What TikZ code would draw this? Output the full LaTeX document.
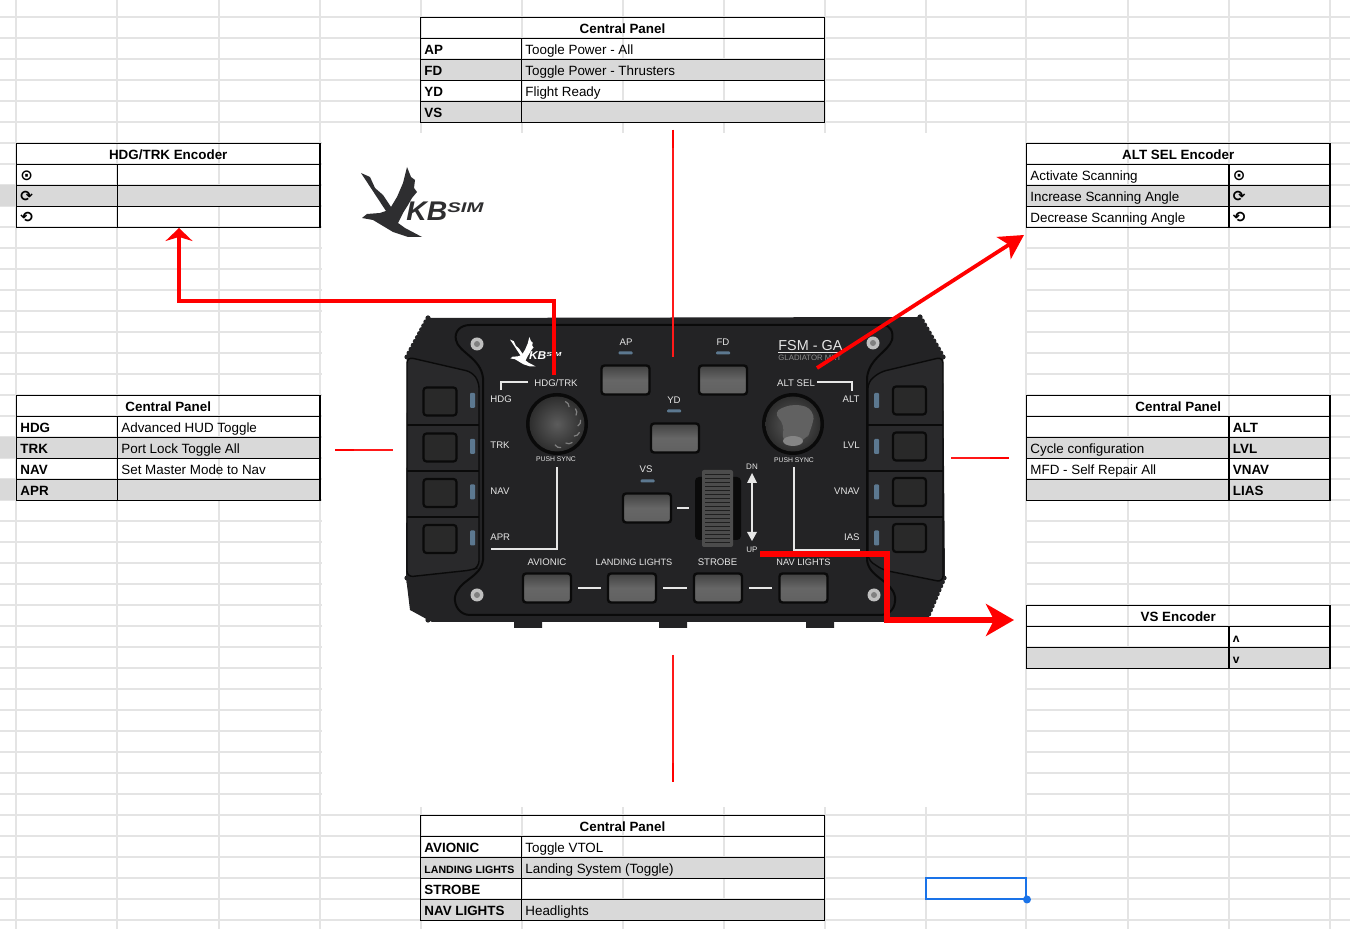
\documentclass[tikz,border=0pt]{standalone}
\usepackage{fontspec}
\setmainfont{Liberation Sans}
\newfontfamily\iconfont{DejaVu Sans}
\usetikzlibrary{arrows.meta, calc, positioning}

\definecolor{gridCol}{HTML}{E4E4E4}
\definecolor{stripeCol}{HTML}{D9D9D9}
\definecolor{bodyCol}{HTML}{232325}
\definecolor{podCol}{HTML}{29292B}
\definecolor{edgeCol}{HTML}{0A0A0A}
\definecolor{ledCol}{HTML}{5C7890}
\definecolor{labelCol}{HTML}{E6E6E6}
\definecolor{logoCol}{HTML}{2E2E30}
\definecolor{cellCol}{HTML}{1A73E8}

\tikzset{
    celltext/.style={anchor=base west, inner sep=0pt, font=\fontsize{6.7}{8}\selectfont},
    celltitle/.style={anchor=base, inner sep=0pt, font=\fontsize{6.7}{8}\selectfont\bfseries},
    cellrule/.style={draw=black, line width=0.6pt},
    keybtn/.style={draw=edgeCol, line width=1.2pt, rounded corners=1.5pt, minimum width=24pt, minimum height=14.5pt, inner sep=0pt, top color=black!74, bottom color=black!62, middle color=black!60},
    sidebtn/.style={draw=edgeCol, line width=1.1pt, rounded corners=1.5pt, minimum width=16.5pt, minimum height=14pt, inner sep=0pt, fill=black!84},
    panellabel/.style={inner sep=0pt, text=labelCol, font=\fontsize{4.8}{5}\selectfont},
    pushlabel/.style={inner sep=0pt, text=labelCol, font=\fontsize{3.4}{4}\selectfont},
    panelline/.style={draw=labelCol, line width=0.6pt},
    led/.style={fill=ledCol, rounded corners=0.5pt},
    redarrow/.style={draw=red, line width=1.6pt},
    redthin/.style={draw=red!90, line width=0.6pt},
    redthick/.style={draw=red, line width=1.1pt},
    pics/kblogo/.style={code={
        \fill[#1] (0,6) -- (9,10) -- (14,21) -- (22,28) -- (30,40) -- (36,30) -- (42,16) -- (46,0)
            -- (50,10) -- (54,13) -- (53,21) -- (56,25) -- (51,31) -- (47,38) -- (42,46) -- (37,56)
            -- (44,61) -- (61,70) -- (47,70) -- (32,65) -- (12,53) -- (1,51) -- (6,47) -- (19,46) -- (25,44) -- cycle;
        \node[anchor=base west, inner sep=0pt, transform shape, text=#1, font=\fontsize{13.5}{14}\selectfont\bfseries\itshape] at (45,54) {\scalebox{1.05}[1]{KB}};
        \node[anchor=base west, inner sep=0pt, transform shape, text=#1, font=\fontsize{7}{8}\selectfont\bfseries\itshape] at (86,46) {\scalebox{1.45}[1]{SIM}};
    }}
}

% table: name, left, split, right, top, title, rows
\newcommand{\sheettable}[7]{
    \begin{scope}[shift={(-0.5,0.5)}]
    \draw[cellrule] (#2,#5) rectangle (#4,#5+21);
    \node[celltitle] (#1-title) at ({(#2+#4)/2},#5+16) {#6};
    \foreach \cola/\colb [count=\n] in {#7} {
        \pgfmathsetmacro{\rowtop}{#5+21*\n}
        \ifodd\n\else
            \fill[stripeCol] (#2,\rowtop) rectangle (#4,\rowtop+21);
        \fi
        \draw[cellrule] (#2,\rowtop) rectangle (#3,\rowtop+21);
        \draw[cellrule] (#3,\rowtop) rectangle (#4,\rowtop+21);
        \node[celltext] (#1-\n-a) at (#2+3.5,\rowtop+16) {\cola};
        \node[celltext] (#1-\n-b) at (#3+3.5,\rowtop+16) {\colb};
    }
    \end{scope}
}
\newcommand{\hitdot}{{\iconfont\bfseries\fontsize{7.5}{8}\selectfont ⊙}}
\newcommand{\turnright}{{\iconfont\bfseries\fontsize{7.5}{8}\selectfont ⟳}}
\newcommand{\turnleft}{{\iconfont\bfseries\fontsize{7.5}{8}\selectfont ⟲}}

\begin{document}
\begin{tikzpicture}[x=0.5pt, y=-0.5pt]

    \useasboundingbox (0,0) rectangle (1350,929);
    \fill[white] (0,0) rectangle (1350,929);

    % Sheet grid
    \foreach \x in {16,117,219,320,421,522,623,724,825,926,1026,1128,1229,1330} {
        \draw[gridCol, line width=0.6pt] (\x,0) -- (\x,929);
    }
    \foreach \k in {0,...,43} {
        \draw[gridCol, line width=0.6pt] (0,17+21*\k) -- (1350,17+21*\k);
    }
    \fill[white] (322,133) rectangle (1025,807);
    \foreach \y in {185,437,479} {
        \fill[stripeCol] (0,\y) rectangle (16,\y+21);
    }

    % Panel body
    \fill[bodyCol] (514,620) rectangle (542,628) (659,620) rectangle (687,628) (806,620) rectangle (834,628);
    \fill[bodyCol] (428,318) -- (920,317) -- (943,357) -- (945,577) -- (927,620) -- (920,622) -- (432,622) -- (410,610) -- (406,577) -- (407,357) -- cycle;
    \coordinate (teethA) at (428,318);
    \coordinate (teethB) at (407,357);
    \coordinate (teethC) at (920,317);
    \coordinate (teethD) at (943,357);
    \coordinate (teethE) at (407,578);
    \coordinate (teethF) at (428,620);
    \coordinate (teethG) at (944,578);
    \coordinate (teethH) at (927,618);
    \foreach \a/\b in {teethA/teethB, teethC/teethD, teethE/teethF, teethG/teethH} {
        \foreach \t in {0,0.1,...,1.01} {
            \fill[bodyCol] ($(\a)!\t!(\b)$) circle (2.6);
        }
    }

    % Front plate outline
    \draw[edgeCol, line width=1pt] (470,325) -- (883,325) .. controls (890,325) and (894,332) .. (892,340)
        .. controls (888,352) and (869,358) .. (867,378) -- (867,560)
        .. controls (869,578) and (892,580) .. (895,597) .. controls (896,608) and (890,615) .. (880,615)
        -- (470,615) .. controls (460,615) and (454,606) .. (455,597)
        .. controls (458,580) and (481,578) .. (483,560) -- (483,378)
        .. controls (481,358) and (458,352) .. (456,340) .. controls (454,332) and (460,325) .. (470,325) -- cycle;

    % Side pods
    \filldraw[fill=podCol, draw=edgeCol, line width=0.7pt, rounded corners=3pt] (407,357) -- (472,372) -- (479,382) -- (479,567) -- (472,570) -- (407,577) -- cycle;
    \filldraw[fill=podCol, draw=edgeCol, line width=0.7pt, rounded corners=3pt] (943,357) -- (880,372) -- (868,382) -- (868,560) -- (883,570) -- (943,582) -- cycle;
    \foreach \y in {425,471,517} {
        \draw[edgeCol, line width=0.8pt] (407,\y) -- (479,\y);
        \draw[edgeCol, line width=0.8pt] (868,\y) -- (943,\y);
    }
    \foreach \n/\y in {1/401.5, 2/447.5, 3/493, 4/539} {
        \node[sidebtn] (leftBtn\n) at (440,\y) {};
        \node[sidebtn] (rightBtn\n) at (909.5,\y-1) {};
        \fill[led] (470,\y-8.5) rectangle (475,\y+6.5);
        \fill[led] (874,\y-8.5) rectangle (879,\y+6.5);
    }

    % Screws
    \foreach \x/\y in {477/344, 477/595, 873/343, 874/595} {
        \fill[black!25] (\x,\y) circle (6.5);
        \fill[black!50] (\x,\y) circle (3);
    }

    % Centre keys
    \node[keybtn] (apBtn) at (625.5,380) {};
    \node[keybtn] (fdBtn) at (723,380) {};
    \node[keybtn] (ydBtn) at (675,438) {};
    \node[keybtn] (vsBtn) at (647,508) {};
    \node[keybtn] (avionicBtn) at (547,588) {};
    \node[keybtn] (landingBtn) at (632,588) {};
    \node[keybtn] (strobeBtn) at (718,588) {};
    \node[keybtn] (navlightsBtn) at (803.5,588) {};
    \draw[panelline, line width=0.9pt, shorten >=3pt, shorten <=3pt] (avionicBtn) -- (landingBtn);
    \draw[panelline, line width=0.9pt, shorten >=3pt, shorten <=3pt] (landingBtn) -- (strobeBtn);
    \draw[panelline, line width=0.9pt, shorten >=3pt, shorten <=3pt] (strobeBtn) -- (navlightsBtn);
    \draw[panelline, line width=0.9pt] (677,508) -- (689,508);
    \foreach \x/\y in {625.5/353, 723/353, 674/411, 647.5/481} {
        \fill[led] (\x-7,\y-1.5) rectangle (\x+7,\y+1.5);
    }

    % Knobs
    \foreach \x in {557,793} {
        \fill[edgeCol] (\x,424) circle (31);
        \shade[inner color=black!64, outer color=black!82] (\x,424) circle (27.5);
    }
    \foreach \a in {200,230,260,290,320,350} {
        \draw[black!50, line width=0.6pt] ([shift={(\a+90:24)}]557,424) arc (\a+90:\a+160:6);
    }
    \fill[black!62, rounded corners=5pt] (772,412) -- (795,403) -- (815,410) -- (812,428) -- (805,442) -- (780,442) -- (786,425) -- cycle;
    \fill[black!48] (793,441) ellipse (10 and 5);

    % Slider wheel
    \fill[edgeCol, rounded corners=2pt] (695,477) rectangle (741,540);
    \fill[black!70, rounded corners=1pt] (702,470) rectangle (733,547);
    \foreach \y in {474,478,...,544} {
        \draw[black!88, line width=0.4pt] (705,\y) -- (730,\y);
    }
    \draw[labelCol, line width=0.6pt] (752,483) -- (752,532);
    \fill[labelCol] (752,473) -- (757,483) -- (747,483) -- cycle;
    \fill[labelCol] (752,541) -- (757,532) -- (747,532) -- cycle;

    % Panel text
    \node[panellabel] (hdgtrkLabel) at (556,383) {HDG/TRK};
    \node[panellabel] (altselLabel) at (796,383) {ALT SEL};
    \node[panellabel, anchor=west] (hdgLabel) at (490,399) {HDG};
    \node[panellabel, anchor=west] (trkLabel) at (490,445) {TRK};
    \node[panellabel, anchor=west] (navLabel) at (490,491) {NAV};
    \node[panellabel, anchor=west] (aprLabel) at (490,537) {APR};
    \node[panellabel, anchor=east] (altLabel) at (860,399) {ALT};
    \node[panellabel, anchor=east] (lvlLabel) at (860,445) {LVL};
    \node[panellabel, anchor=east] (vnavLabel) at (860,491) {VNAV};
    \node[panellabel, anchor=east] (iasLabel) at (860,537) {IAS};
    \node[panellabel] (apLabel) at (626,342) {AP};
    \node[panellabel] (fdLabel) at (723,342) {FD};
    \node[panellabel] (ydLabel) at (674,400) {YD};
    \node[panellabel] (vsLabel) at (646,469) {VS};
    \node[panellabel] (avionicLabel) at (547,562) {AVIONIC};
    \node[panellabel, font=\fontsize{4.6}{5}\selectfont] (landingLabel) at (634,562) {LANDING LIGHTS};
    \node[panellabel] (strobeLabel) at (717.5,562) {STROBE};
    \node[panellabel, font=\fontsize{4.6}{5}\selectfont] (navlightsLabel) at (803.5,562) {NAV LIGHTS};
    \node[pushlabel] (pushLeft) at (556,459.5) {PUSH SYNC};
    \node[pushlabel] (pushRight) at (794,460) {PUSH SYNC};
    \node[pushlabel, font=\fontsize{4}{5}\selectfont] (dnLabel) at (752,467) {DN};
    \node[pushlabel, font=\fontsize{4}{5}\selectfont] (upLabel) at (752,550) {UP};
    \node[inner sep=0pt, text=labelCol, font=\fontsize{7.2}{8}\selectfont, anchor=west] (fsmLabel) at (778,346) {FSM - GA};
    \draw[labelCol, line width=0.5pt] (778,352.5) -- (842,352.5);
    \node[inner sep=0pt, text=black!45, font=\fontsize{3.9}{5}\selectfont, anchor=west] (gladLabel) at (778,357.5) {GLADIATOR MXT};

    % Panel trim lines
    \draw[panelline] (528,382) -- (501,382) -- (501,390);
    \draw[panelline] (817,382) -- (852,382) -- (852,391);
    \draw[panelline] (557,467) -- (557,549) -- (491,549);
    \draw[panelline] (794,467) -- (794,550) -- (860,550);

    % Logos
    \pic at (361,167) {kblogo=logoCol};
    \pic[scale=0.42] at (510,337) {kblogo=white};

    % Tables
    \sheettable{topPanel}{421}{522}{825}{17}{Central Panel}{
        \textbf{AP}/Toogle Power - All,
        \textbf{FD}/Toggle Power - Thrusters,
        \textbf{YD}/Flight Ready,
        \textbf{VS}/{}}
    \sheettable{hdgEnc}{17}{118}{320.5}{143}{HDG/TRK Encoder}{
        \hitdot/{},
        \turnright/{},
        \turnleft/{}}
    \sheettable{altEnc}{1027}{1229.5}{1330.5}{143}{ALT SEL Encoder}{
        Activate Scanning/\hitdot,
        Increase Scanning Angle/\turnright,
        Decrease Scanning Angle/\turnleft}
    \sheettable{leftPanel}{17}{118}{320.5}{395}{Central Panel}{
        \textbf{HDG}/Advanced HUD Toggle,
        \textbf{TRK}/Port Lock Toggle All,
        \textbf{NAV}/Set Master Mode to Nav,
        \textbf{APR}/{}}
    \sheettable{rightPanel}{1027}{1229.5}{1330.5}{395}{Central Panel}{
        {}/\textbf{ALT},
        Cycle configuration/\textbf{LVL},
        MFD - Self Repair All/\textbf{VNAV},
        {}/\textbf{LIAS}}
    \sheettable{vsEnc}{1027}{1229.5}{1330.5}{605}{VS Encoder}{
        {}/{\fontsize{6}{7}\selectfont\bfseries ʌ},
        {}/{\fontsize{6}{7}\selectfont\bfseries v}}
    \sheettable{bottomPanel}{421}{522}{825}{815}{Central Panel}{
        \textbf{AVIONIC}/Toggle VTOL,
        {\fontsize{5.3}{7}\selectfont\bfseries LANDING LIGHTS}/Landing System (Toggle),
        \textbf{STROBE}/{},
        \textbf{NAV LIGHTS}/Headlights}

    % Selected cell
    \draw[cellCol, line width=1pt] (926,878.5) rectangle (1026,899);
    \fill[cellCol] (1027,899.5) circle (4);

    % Red connectors
    \coordinate (hdgFrom) at (554,375);
    \coordinate (hdgTo) at (179,228);
    \draw[redarrow, -{Stealth[length=6.5pt, width=13.5pt, inset=2pt]}] (hdgFrom) -- ++(0,-74) -| (hdgTo);
    \coordinate (altFrom) at (817,368);
    \coordinate (altTo) at (1024,235);
    \draw[redarrow, line width=1.9pt, -{Stealth[length=12pt, width=13pt, inset=3pt]}] (altFrom) -- (altTo);
    \coordinate (vsFrom) at (760,554);
    \coordinate (vsBend) at (887,587);
    \coordinate (vsTo) at (1014,620);
    \draw[redarrow, line width=2.6pt, -{Stealth[length=14pt, width=16pt, inset=4pt]}] (vsFrom) -| (vsBend) |- (vsTo);

    \coordinate (topFrom) at (673,130);
    \coordinate (topMid) at (673,148);
    \coordinate (topTo) at (673,357);
    \draw[redthin] (topFrom) -- (topTo);
    \draw[redthick] (topFrom) -- (topMid);
    \coordinate (leftFrom) at (335,450);
    \coordinate (leftMid) at (354,450);
    \coordinate (leftTo) at (393,450);
    \draw[redthin] (leftFrom) -- (leftTo);
    \draw[redthick] (leftFrom) -- (leftMid);
    \coordinate (rightFrom) at (951,458);
    \coordinate (rightMid) at (990,458);
    \coordinate (rightTo) at (1009,458);
    \draw[redthin] (rightFrom) -- (rightTo);
    \draw[redthick] (rightMid) -- (rightTo);
    \coordinate (bottomFrom) at (673,655);
    \coordinate (bottomMid) at (673,763);
    \coordinate (bottomTo) at (673,782);
    \draw[redthin] (bottomFrom) -- (bottomTo);
    \draw[redthick] (bottomMid) -- (bottomTo);

\end{tikzpicture}
\end{document}
